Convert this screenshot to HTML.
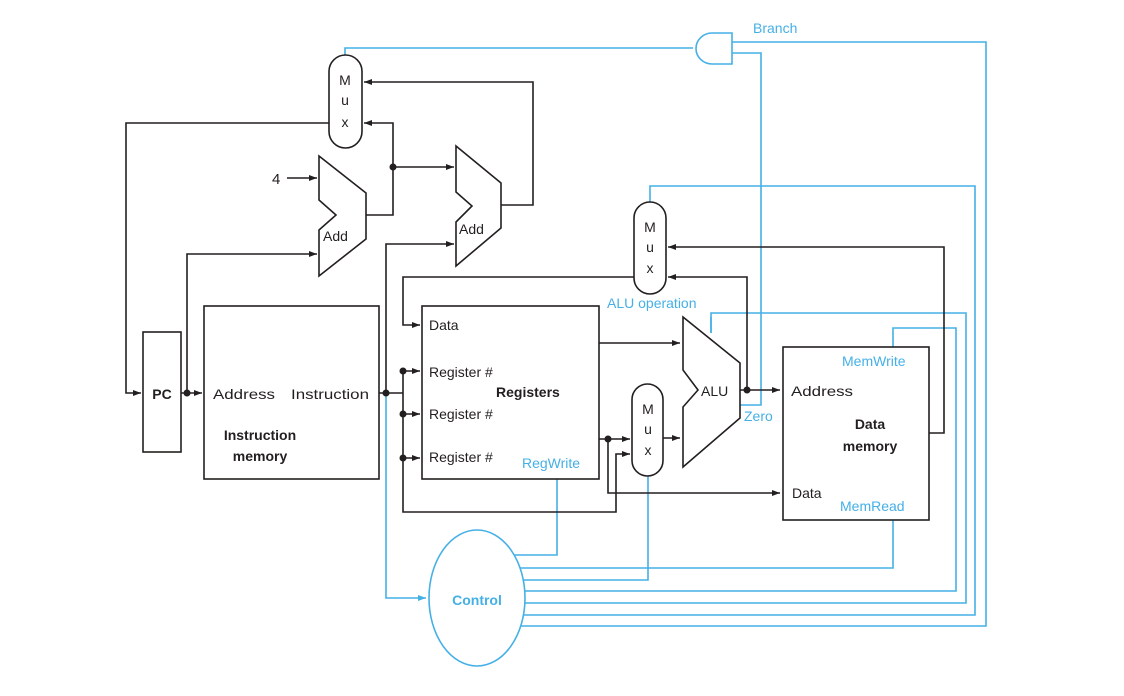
<!DOCTYPE html>
<html><head><meta charset="utf-8"><style>
html,body{margin:0;padding:0;background:#fff;}
svg{display:block;}
text{font-family:"Liberation Sans",sans-serif;font-size:14px;fill:#231f20;}
.b{font-weight:bold;}
.c{fill:#45b0e6;}
.k{stroke:#231f20;stroke-width:1.6;fill:none;}
.u{stroke:#45b0e6;stroke-width:1.6;fill:none;}
</style></head><body>
<svg width="1124" height="696" viewBox="0 0 1124 696" xmlns="http://www.w3.org/2000/svg">
<defs>
<marker id="a" markerWidth="8" markerHeight="6" refX="8" refY="3" orient="auto" markerUnits="userSpaceOnUse"><path d="M0,0 L8,3 L0,6 z" fill="#231f20"/></marker>
<marker id="ab" markerWidth="8" markerHeight="6" refX="8" refY="3" orient="auto" markerUnits="userSpaceOnUse"><path d="M0,0 L8,3 L0,6 z" fill="#45b0e6"/></marker>
</defs>

<g class="u">
<path d="M345,57 V48 H693"/>
<path d="M732,42 H986 V626 H477"/>
<path d="M732,53 H761 V405 H740"/>
<path d="M650,202 V186 H975 V615 H477"/>
<path d="M711,333 V313 H966 V603 H477"/>
<path d="M893,347 V328 H956 V591 H477"/>
<path d="M893,520 V568 H477"/>
<path d="M648,476 V580 H477"/>
<path d="M557,479 V555 H477"/>
<path d="M386,393 V598 H426" marker-end="url(#ab)"/>
</g>
<ellipse cx="477" cy="598" rx="48" ry="68" fill="#fff" stroke="#45b0e6" stroke-width="1.6"/>
<text x="477" y="605" text-anchor="middle" class="b c">Control</text>

<g class="k">
<path d="M329,123 H126 V393 H141" marker-end="url(#a)"/>
<path d="M181,393 H202" marker-end="url(#a)"/>
<path d="M187,393 V254 H317" marker-end="url(#a)"/>
<path d="M287,178 H317" marker-end="url(#a)"/>
<path d="M366,215 H393 V123 H364" marker-end="url(#a)"/>
<path d="M393,167 H454" marker-end="url(#a)"/>
<path d="M386,393 V244 H454" marker-end="url(#a)"/>
<path d="M501,205 H533 V82 H364" marker-end="url(#a)"/>
<path d="M379,393 H403"/>
<path d="M403,371 V512 H616 V454 H630" marker-end="url(#a)"/>
<path d="M403,371 H420" marker-end="url(#a)"/>
<path d="M403,414 H420" marker-end="url(#a)"/>
<path d="M403,458 H420" marker-end="url(#a)"/>
<path d="M634,277 H403 V325 H420" marker-end="url(#a)"/>
<path d="M599,343 H680" marker-end="url(#a)"/>
<path d="M599,439 H630" marker-end="url(#a)"/>
<path d="M608,439 V493 H780" marker-end="url(#a)"/>
<path d="M663,438 H680" marker-end="url(#a)"/>
<path d="M740,390 H780" marker-end="url(#a)"/>
<path d="M747,390 V277 H668" marker-end="url(#a)"/>
<path d="M929,433 H944 V247 H668" marker-end="url(#a)"/>
</g>
<g fill="#231f20">
<circle cx="187" cy="393" r="3.5"/><circle cx="393" cy="167" r="3.5"/>
<circle cx="386" cy="393" r="3.5"/><circle cx="403" cy="371" r="3.5"/>
<circle cx="403" cy="414" r="3.5"/><circle cx="403" cy="458" r="3.5"/>
<circle cx="608" cy="439" r="3.5"/><circle cx="747" cy="390" r="3.5"/>
</g>

<path d="M732,33 H712 A16,15.5 0 0 0 712,64 H732 Z" fill="#fff" stroke="#45b0e6" stroke-width="1.6"/>
<text x="753" y="33" class="c">Branch</text>

<g class="k" fill="#fff">
<rect x="143" y="332" width="38" height="120" fill="#fff"/>
<rect x="204" y="306" width="175" height="173" fill="#fff"/>
<rect x="422" y="306" width="177" height="173" fill="#fff"/>
<rect x="783" y="347" width="146" height="173" fill="#fff"/>
<rect x="329" y="55" width="33" height="93" rx="16.5" fill="#fff"/>
<rect x="634" y="202" width="32" height="92" rx="16" fill="#fff"/>
<rect x="632" y="384" width="31" height="92" rx="15.5" fill="#fff"/>
<path d="M319,156 L366,193 L366,239 L319,276 L319,230 L336,215 L319,200 Z" fill="#fff"/>
<path d="M456,146 L501,183 L501,228 L456,266 L456,222 L472,206 L456,192 Z" fill="#fff"/>
<path d="M683,317 L740,363 L740,418 L683,467 L683,407 L698,390 L683,370 Z" fill="#fff"/>
</g>
<path d="M711,333 V317" class="u"/>

<text x="272" y="184" style="font-size:15px">4</text>
<text x="323" y="241">Add</text>
<text x="459" y="234">Add</text>
<g text-anchor="middle">
<text x="345" y="85">M</text><text x="345" y="105">u</text><text x="345" y="127">x</text>
<text x="650" y="232">M</text><text x="650" y="252">u</text><text x="650" y="273">x</text>
<text x="648" y="414">M</text><text x="648" y="434">u</text><text x="648" y="455">x</text>
<text x="162" y="399" class="b">PC</text>
<text x="260" y="440" class="b">Instruction</text>
<text x="260" y="461" class="b">memory</text>
<text x="870" y="429" class="b">Data</text>
<text x="870" y="451" class="b">memory</text>
</g>
<text x="213" y="399" textLength="62" lengthAdjust="spacingAndGlyphs">Address</text>
<text x="291" y="399" textLength="78" lengthAdjust="spacingAndGlyphs">Instruction</text>
<text x="429" y="330">Data</text>
<text x="429" y="377">Register #</text>
<text x="429" y="419">Register #</text>
<text x="429" y="462">Register #</text>
<text x="496" y="397" class="b">Registers</text>
<text x="522" y="468" class="c">RegWrite</text>
<text x="607" y="308" class="c">ALU operation</text>
<text x="701" y="396">ALU</text>
<text x="744" y="421" class="c">Zero</text>
<text x="791" y="396" textLength="62" lengthAdjust="spacingAndGlyphs">Address</text>
<text x="842" y="366" class="c">MemWrite</text>
<text x="792" y="498">Data</text>
<text x="840" y="511" class="c">MemRead</text>
</svg>
</body></html>
